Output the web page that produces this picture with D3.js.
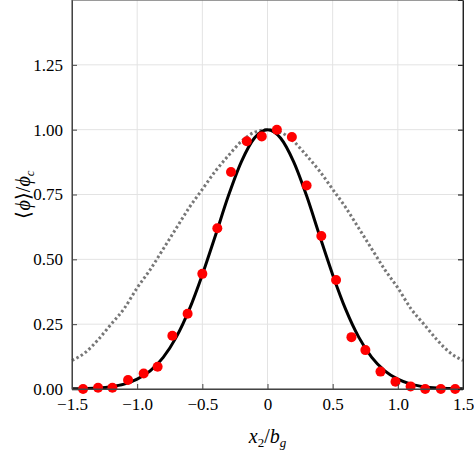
<!DOCTYPE html>
<html><head><meta charset="utf-8">
<script src="https://cdn.jsdelivr.net/npm/d3@7"></script>
<style>body{margin:0;background:#fff}</style>
</head><body><div id="chart"></div>
<script>
// measured points
let dataX = [-1.415,-1.30,-1.19,-1.07,-0.95,-0.843,-0.73,-0.613,-0.5,-0.385,-0.28,-0.159,-0.044,0.072,0.187,0.30,0.413,0.526,0.644,0.751,0.867,0.982,1.098,1.21,1.33,1.44];
let dataY = [0.0,0.005,0.005,0.035,0.06,0.086,0.205,0.29,0.444,0.62,0.837,0.955,0.974,1.0,0.972,0.785,0.59,0.42,0.2,0.15,0.067,0.028,0.01,0.0,0.0,0.0];
// fit curve (solid)
let fitX = [-1.5,-1.4,-1.3,-1.2,-1.1,-1.0,-0.9,-0.8,-0.7,-0.6,-0.5,-0.4,-0.3,-0.2,-0.1,0,0.1,0.2,0.3,0.4,0.5,0.6,0.7,0.8,0.9,1.0,1.1,1.2,1.3,1.4,1.5];
let fitY = [0.001,0.002,0.004,0.009,0.019,0.038,0.07,0.122,0.2,0.307,0.441,0.591,0.745,0.877,0.968,1,0.968,0.877,0.745,0.591,0.441,0.307,0.2,0.122,0.07,0.038,0.019,0.009,0.004,0.002,0.001];
// reference curve (dotted)
let refX = fitX;
let refY = [0.11,0.14,0.19,0.25,0.31,0.39,0.46,0.54,0.62,0.70,0.77,0.84,0.90,0.955,0.99,1,0.99,0.955,0.90,0.84,0.77,0.70,0.62,0.54,0.46,0.39,0.31,0.25,0.19,0.14,0.11];
let xTicks = [-1.5,-1.0,-0.5,0,0.5,1.0,1.5];
let yTicks = [0,0.25,0.5,0.75,1.0,1.25,1.5];

let FONT = '"Liberation Serif","Times New Roman",serif';
let svgWidth = 474, svgHeight = 450;
let margin = {top: 0, right: 11, bottom: 61, left: 72};
let width = svgWidth - margin.left - margin.right;
let height = svgHeight - margin.top - margin.bottom;

let svg = d3.select('#chart').append('svg')
  .attr('width', svgWidth).attr('height', svgHeight).attr('font-family', FONT);
let g = svg.append('g').attr('transform', `translate(${margin.left},${margin.top})`);

let x = d3.scaleLinear().domain([-1.5, 1.5]).range([0, width]);
let y = d3.scaleLinear().domain([0, 1.5]).range([height, 0]);

// grid
g.selectAll('.gx').data(xTicks).enter().append('line')
  .attr('x1', d => x(d)).attr('x2', d => x(d)).attr('y1', 0).attr('y2', height)
  .attr('stroke', '#e3e3e3');
g.selectAll('.gy').data(yTicks).enter().append('line')
  .attr('y1', d => y(d)).attr('y2', d => y(d)).attr('x1', 0).attr('x2', width)
  .attr('stroke', '#e3e3e3');

// curves
let line = d3.line().x(d => x(d[0])).y(d => y(d[1])).curve(d3.curveMonotoneX);
g.append('path').datum(refX.map((v, i) => [v, refY[i]]))
  .attr('d', line).attr('fill', 'none').attr('stroke', '#777')
  .attr('stroke-width', 3).attr('stroke-dasharray', '2.5,2.5');
g.append('path').datum(fitX.map((v, i) => [v, fitY[i]]))
  .attr('d', line).attr('fill', 'none').attr('stroke', '#000').attr('stroke-width', 3);

// points
g.selectAll('circle').data(dataX).enter().append('circle')
  .attr('cx', d => x(d)).attr('cy', (d, i) => y(dataY[i])).attr('r', 5)
  .attr('fill', '#f00');

// axes
let fmtX = d => d === 0 ? '0' : d3.format('.1f')(d).replace('-', '\u2212');
let bottomAxis = d3.axisBottom(x).tickValues(xTicks).tickFormat(fmtX).tickSizeInner(-5).tickSizeOuter(0).tickPadding(9);
let leftAxis = d3.axisLeft(y).tickValues(yTicks.slice(0, 6)).tickFormat(d3.format('.2f')).tickSizeInner(-5).tickSizeOuter(0).tickPadding(9);
let ax = g.append('g').attr('transform', `translate(0,${height})`).call(bottomAxis);
let ay = g.append('g').call(leftAxis);
g.append('g').attr('transform', `translate(${width},0)`)
  .call(d3.axisRight(y).tickValues(yTicks).tickFormat('').tickSizeInner(-5).tickSizeOuter(0));
[ax, ay].forEach(a => {
  a.attr('font-family', FONT).attr('font-size', 17);
  a.selectAll('text').attr('fill', '#000');
  a.selectAll('line,path').attr('stroke', '#444');
});
g.append('rect').attr('width', width).attr('height', height)
  .attr('fill', 'none').attr('stroke', '#444');

// labels
svg.append('text').attr('x', margin.left + width / 2).attr('y', 443)
  .attr('text-anchor', 'middle').attr('font-size', 20)
  .html('<tspan font-style="italic">x</tspan><tspan font-size="13" dy="4">2</tspan><tspan dy="-4">/</tspan><tspan font-style="italic">b</tspan><tspan font-size="13" font-style="italic" dy="4">g</tspan>');
svg.append('text').attr('transform', `translate(30,${height / 2}) rotate(-90)`)
  .attr('text-anchor', 'middle').attr('font-size', 20)
  .html('\u27E8<tspan font-style="italic">\u03D5</tspan>\u27E9/<tspan font-style="italic">\u03D5</tspan><tspan font-size="13" font-style="italic" dy="4">c</tspan>');
</script></body></html>
